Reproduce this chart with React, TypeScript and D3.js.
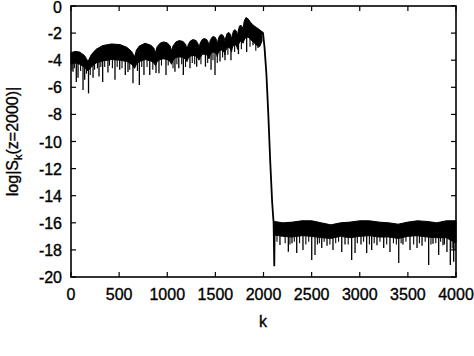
import React from "react";
import * as d3 from "d3";

// x-axis ticks and y-axis ticks
const xTicks = [0, 500, 1000, 1500, 2000, 2500, 3000, 3500, 4000];
const yTicks = [0, -2, -4, -6, -8, -10, -12, -14, -16, -18, -20];

// upper region: dense band (arches), k 0..1984
const upK = [0, 40, 90, 140, 177, 210, 260, 330, 420, 510, 580, 630, 660, 680, 710, 770, 830, 860, 878, 895, 925, 960, 1000, 1030, 1044, 1060, 1090, 1125, 1165, 1192, 1205, 1218, 1240, 1268, 1300, 1320, 1330, 1342, 1360, 1382, 1410, 1426, 1434, 1444, 1460, 1477, 1500, 1513, 1520, 1528, 1543, 1560, 1580, 1594, 1600, 1607, 1620, 1634, 1650, 1662, 1668, 1675, 1688, 1700, 1715, 1725, 1730, 1737, 1750, 1762, 1775, 1787, 1800, 1818, 1840, 1870, 1900, 1930, 1960, 1984];
const upTop = [-3.45, -3.35, -3.4, -3.65, -4.1, -3.6, -3.2, -2.92, -2.8, -2.85, -3.05, -3.35, -3.75, -3.25, -2.95, -2.75, -2.9, -3.1, -3.45, -3.0, -2.75, -2.65, -2.72, -2.95, -3.3, -2.95, -2.65, -2.55, -2.62, -2.85, -3.2, -2.85, -2.58, -2.48, -2.55, -2.8, -3.1, -2.75, -2.5, -2.4, -2.47, -2.7, -2.98, -2.6, -2.35, -2.25, -2.32, -2.55, -2.85, -2.5, -2.2, -2.1, -2.17, -2.4, -2.7, -2.35, -2.05, -1.95, -2.02, -2.25, -2.5, -2.15, -1.85, -1.75, -1.82, -2.0, -2.25, -1.85, -1.5, -1.4, -1.5, -1.7, -1.1, -0.85, -0.95, -1.25, -1.45, -1.6, -1.75, -1.9];
const upBot = [-4.3, -4.2, -4.3, -4.5, -4.8, -4.5, -4.2, -4.05, -3.95, -4.0, -4.1, -4.3, -4.6, -4.3, -4.1, -3.95, -4.05, -4.2, -4.4, -4.1, -3.95, -3.9, -3.95, -4.1, -4.3, -4.0, -3.8, -3.75, -3.8, -3.95, -4.1, -3.85, -3.7, -3.65, -3.7, -3.85, -4.0, -3.8, -3.6, -3.55, -3.6, -3.75, -3.9, -3.65, -3.45, -3.4, -3.45, -3.6, -3.75, -3.5, -3.3, -3.25, -3.3, -3.45, -3.6, -3.3, -3.1, -3.05, -3.1, -3.25, -3.4, -3.1, -2.9, -2.85, -2.9, -3.05, -3.2, -2.9, -2.7, -2.6, -2.65, -2.75, -2.5, -2.3, -2.3, -2.5, -2.7, -2.9, -3.0, -2.6];

// steep drop around k = 2000
const dropK = [1984, 1995, 2010, 2030, 2050, 2070, 2090, 2105, 2112, 2116];
const dropV = [-1.9, -2.0, -3.0, -5.0, -8.0, -11.5, -14.5, -16.0, -19.2, -16.3];

// lower region: dense band, k 2110..4000
const lowK = [2112, 2200, 2300, 2400, 2500, 2600, 2700, 2800, 2900, 3000, 3100, 3200, 3300, 3400, 3500, 3600, 3700, 3800, 3900, 4000];
const lowTop = [-15.9, -16.0, -15.95, -15.85, -15.85, -16.0, -16.15, -16.0, -15.95, -15.85, -15.85, -15.95, -16.0, -16.1, -15.95, -15.85, -15.9, -16.0, -15.85, -15.85];
const lowBot = [-16.9, -17.0, -17.05, -16.95, -17.0, -17.1, -17.15, -17.0, -17.1, -17.0, -16.95, -17.05, -17.05, -17.15, -17.0, -16.95, -17.05, -17.1, -17.1, -17.5];

// downward spikes (k, minimum value)
const spikeK = [21, 55, 73, 125, 142, 182, 229, 291, 329, 384, 457, 506, 564, 592, 644, 710, 758, 818, 883, 914, 987, 1080, 1120, 1167, 1236, 1306, 1397, 1455, 1496, 1548, 1600, 1662, 1740, 1825, 1891, 1943,
  2171, 2258, 2296, 2345, 2410, 2501, 2535, 2605, 2660, 2722, 2813, 2847, 2916, 2951, 3013, 3072, 3124, 3179, 3249, 3314, 3405, 3449, 3522, 3595, 3647, 3716, 3761, 3820, 3865, 3906, 3941, 3976];
const spikeV = [-4.85, -5.6, -5.3, -6.2, -5.45, -6.45, -5.3, -5.2, -5.6, -4.9, -5.45, -4.7, -5.1, -4.87, -5.7, -5.83, -5.1, -5.1, -4.95, -4.97, -5.1, -4.85, -4.6, -5.1, -4.6, -4.48, -4.48, -4.7, -5.1, -4.1, -4.0, -4.0, -3.55, -3.4, -2.9, -3.1,
  -17.64, -18.13, -17.5, -18.23, -18.0, -18.75, -18.38, -17.86, -17.7, -18.0, -18.15, -17.6, -18.75, -18.23, -17.6, -18.23, -18.0, -17.65, -17.86, -18.15, -18.97, -17.6, -18.0, -17.86, -17.7, -19.11, -17.55, -18.38, -17.65, -18.15, -19.11, -18.87];

// shorter secondary spikes (k, minimum value)
const minorK = [10, 35, 100, 160, 200, 245, 275, 310, 350, 400, 430, 480, 530, 610, 690, 735, 790, 850, 940, 1010, 1060, 1100, 1150, 1190, 1260, 1285, 1350, 1420, 1475, 1520, 1575, 1630, 1700, 1770, 1860, 1920,
  2140, 2225, 2275, 2320, 2375, 2440, 2470, 2560, 2580, 2630, 2690, 2750, 2780, 2880, 2975, 3040, 3100, 3150, 3210, 3280, 3350, 3380, 3430, 3480, 3560, 3620, 3680, 3740, 3790, 3840, 3880, 3960, 3990];
const minorV = [-4.7, -4.6, -4.8, -5.0, -5.1, -4.7, -4.6, -4.5, -4.5, -4.4, -4.6, -4.5, -4.6, -4.7, -4.8, -4.5, -4.5, -4.7, -4.4, -4.4, -4.6, -4.3, -4.3, -4.5, -4.2, -4.3, -4.3, -4.2, -4.0, -4.2, -3.8, -3.6, -3.4, -3.2, -3.0, -3.3,
  -17.4, -17.5, -17.6, -17.4, -17.5, -17.6, -17.4, -17.6, -17.5, -17.4, -17.6, -17.5, -17.4, -17.6, -17.5, -17.4, -17.6, -17.5, -17.4, -17.6, -17.5, -17.6, -17.5, -17.4, -17.6, -17.5, -17.4, -17.6, -17.5, -17.4, -17.6, -17.9, -18.0];

const W = 474, H = 356;
const L = 71, R = 456, T = 6, B = 277;
const FONT = "'Liberation Sans', Arial, Helvetica, sans-serif";

export default function App() {
  const x = d3.scaleLinear().domain([0, 4000]).range([L, R]);
  const y = d3.scaleLinear().domain([-20, 0]).range([B, T]);

  const upArea = d3.area<number>()
    .x((i) => x(upK[i]))
    .y0((i) => y(upBot[i]))
    .y1((i) => y(upTop[i]))(upK.map((_, i) => i)) as string;

  const lowArea = d3.area<number>()
    .x((i) => x(lowK[i]))
    .y0((i) => y(lowBot[i]))
    .y1((i) => y(lowTop[i]))(lowK.map((_, i) => i)) as string;

  const dropLine = d3.line<number>()
    .x((i) => x(dropK[i]))
    .y((i) => y(dropV[i]))(dropK.map((_, i) => i)) as string;

  const botUp = d3.scaleLinear().domain(upK).range(upBot).clamp(true);
  const botLow = d3.scaleLinear().domain(lowK).range(lowBot).clamp(true);
  const base = (k: number) => (k < 2050 ? botUp(k) : botLow(k));

  const textProps = { fontFamily: FONT, fontSize: 16, fill: "#000", stroke: "#000", strokeWidth: 0.35 };

  return (
    <svg width={W} height={H} style={{ position: "absolute", left: 0, top: 0, background: "#fff" }}>
      <rect x={0} y={0} width={W} height={H} fill="#fff" />
      <path d={upArea} fill="#000" stroke="#000" strokeWidth={1} />
      <path d={lowArea} fill="#000" stroke="#000" strokeWidth={1} />
      <path d={dropLine} fill="none" stroke="#000" strokeWidth={1.8} />
      {minorK.map((k, i) => (
        <line key={"m" + i} x1={x(k)} x2={x(k)} y1={y(base(k)) - 1} y2={y(minorV[i])} stroke="#000" strokeWidth={1.1} />
      ))}
      {spikeK.map((k, i) => (
        <line key={"s" + i} x1={x(k)} x2={x(k)} y1={y(base(k)) - 1} y2={y(spikeV[i])} stroke="#000" strokeWidth={1.3} />
      ))}
      {/* frame */}
      <rect x={L} y={T} width={R - L} height={B - T} fill="none" stroke="#000" strokeWidth={1.6} />
      {xTicks.map((t) => (
        <g key={"x" + t}>
          <line x1={x(t)} x2={x(t)} y1={B} y2={B - 5} stroke="#000" strokeWidth={1.2} />
          <line x1={x(t)} x2={x(t)} y1={T} y2={T + 5} stroke="#000" strokeWidth={1.2} />
          <text x={x(t)} y={300} textAnchor="middle" {...textProps}>{t}</text>
        </g>
      ))}
      {yTicks.map((t) => (
        <g key={"y" + t}>
          <line x1={L} x2={L + 5} y1={y(t)} y2={y(t)} stroke="#000" strokeWidth={1.2} />
          <line x1={R} x2={R - 5} y1={y(t)} y2={y(t)} stroke="#000" strokeWidth={1.2} />
          <text x={62} y={t === 0 ? y(t) + 7 : y(t) + 6} textAnchor="end" {...textProps}>{t}</text>
        </g>
      ))}
      <text x={263} y={327} textAnchor="middle" {...textProps}>k</text>
      <text transform={`translate(18, ${(T + B) / 2}) rotate(-90)`} textAnchor="middle" {...textProps}>
        log|S<tspan fontSize={11} dy={4}>k</tspan><tspan dy={-4}>(z=2000)|</tspan>
      </text>
    </svg>
  );
}
